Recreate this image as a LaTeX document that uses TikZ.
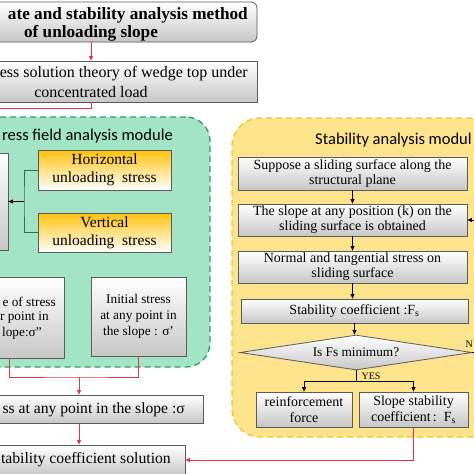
\documentclass[tikz,border=0pt]{standalone}
\usepackage{fontspec}
\setmainfont{Liberation Serif}
\newfontfamily\modfont{Carlito}
\usetikzlibrary{arrows.meta,shapes.geometric,fit}
\definecolor{redline}{HTML}{E8343C}
\definecolor{greenfill}{HTML}{A3E4C6}
\definecolor{greenedge}{HTML}{2E9D5B}
\definecolor{yelfill}{HTML}{FCE38C}
\definecolor{yeledge}{HTML}{EBC82A}
\definecolor{boxedge}{HTML}{5A5A5A}
\definecolor{goldtop}{HTML}{FFC20E}
\definecolor{connteal}{HTML}{2F6B5E}
\newcommand{\fsz}[2]{\fontsize{#1}{#2}\selectfont}
\begin{document}
\begin{tikzpicture}[x=1pt,y=-1pt,
  gbox/.style={draw=boxedge, line width=0.8pt, top color=white, bottom color=black!22, inner sep=0pt, align=center},
  ybox/.style={draw=boxedge, line width=0.8pt, top color=goldtop, bottom color=white, inner sep=0pt, align=center},
  gmodule/.style={draw=greenedge, fill=greenfill, line width=1.3pt, dash pattern=on 6pt off 4pt, rounded corners=24pt, inner sep=0pt},
  ymodule/.style={draw=yeledge, fill=yelfill, line width=1.3pt, dash pattern=on 6pt off 4pt, rounded corners=28pt, inner sep=0pt},
  txt/.style={inner sep=0pt},
  redarr/.style={draw=redline, line width=0.9pt, -{Triangle[length=4.5pt,width=4pt]}},
  redln/.style={draw=redline, line width=0.9pt},
  blkarr/.style={draw=black, line width=0.8pt, -{Triangle[length=4.5pt,width=4pt]}},
  blkln/.style={draw=black, line width=0.8pt},
  tealln/.style={draw=connteal, line width=1pt},
]
\useasboundingbox (0,0) rectangle (474,474);
\fill[white] (0,0) rectangle (474,474);

% top boxes
\node[gbox, rounded corners=6pt, fit={(-120,2) (257,42)}] (title) {};
\node[txt, anchor=east, font=\bfseries\fsz{17.2}{19}] (t1a) at (248,15) {ate and stability analysis method};
\node[txt, font=\bfseries\fsz{17.2}{19}] (t1b) at (91,33) {of unloading slope};

\node[gbox, fit={(-120,61) (257,102)}] (box2) {};
\node[txt, anchor=east, font=\fsz{16}{18}] (t2a) at (248,74) {ess solution theory of wedge top under};
\node[txt, font=\fsz{16}{18}] (t2b) at (91,92) {concentrated load};

\draw[redarr] (t1b |- title.south) -- (t1b |- box2.north);
\coordinate (gin) at (-10,108);
\draw[redln] (t2b |- box2.south) |- (gin);

% green module
\node[gmodule, fit={(-60,117) (210,367)}] (gmod) {};
\node[txt, anchor=east, font=\modfont\fsz{16.5}{18}] (gtitle) at (173,136) {ress field analysis module};

\node[gbox, fit={(-60,153) (8,250)}] (lbox) {};
\node[ybox, minimum width=133pt, minimum height=40pt, font=\fsz{15.5}{18}] (hor) at (104.5,170) {Horizontal\\unloading\ \ stress};
\node[ybox, minimum width=133pt, minimum height=39pt, font=\fsz{15.5}{18}] (ver) at (104.5,232.5) {Vertical\\unloading\ \ stress};
\coordinate (jn) at (24,201.5);
\draw[tealln] (hor.west) -| (jn) |- (ver.west);
\draw[blkarr] (jn) -- (jn -| lbox.east);

\node[gbox, fit={(-60,277) (64,358)}] (blb) {};
\node[txt, anchor=east, font=\fsz{13.3}{16}] (b1) at (56,302) {e of stress};
\node[txt, anchor=east, font=\fsz{13.3}{16}] (b2) at (49,318) {r point in};
\node[txt, anchor=east, font=\fsz{13.3}{16}] (b3) at (42,333) {lope:σ''};

\node[gbox, minimum width=95pt, minimum height=79pt, font=\fsz{13.3}{16}] (init) at (138.5,316.5) {Initial stress\\at any point in\\the slope : σ'};

\coordinate (rj) at (79,377);
\draw[redln] ([xshift=-55pt]blb.south east) |- (rj) -| (init.south);

\node[gbox, fit={(-60,395) (203,423)}] (sig) {};
\node[txt, anchor=east, font=\fsz{15.6}{18}] (sigt) at (185,410) {ss at any point in the slope :σ};
\draw[redarr] (rj) -- (rj |- sig.north);

\node[gbox, fit={(-60,445) (185,475)}] (sol) {};
\node[txt, anchor=east, font=\fsz{15.7}{18}] (solt) at (171,460) {tability coefficient solution};
\draw[redarr] (rj |- sig.south) -- (rj |- sol.north);

% yellow module
\node[ymodule, fit={(232,118) (540,437)}] (ymod) {};
\node[txt, anchor=west, font=\modfont\fsz{16.5}{18}] (ytitle) at (315,140) {Stability analysis modul};

\node[gbox, minimum width=229pt, minimum height=33pt, font=\fsz{14}{15}] (supp) at (352.5,173.5) {Suppose a sliding surface along the\\structural plane};
\node[gbox, minimum width=229pt, minimum height=32pt, font=\fsz{14}{15}] (slopek) at (352.5,220) {The slope at any position (k) on the\\sliding surface is obtained};
\node[gbox, minimum width=229pt, minimum height=32pt, font=\fsz{14}{15}] (normal) at (352.5,267) {Normal and tangential stress on\\sliding surface};
\node[gbox, minimum width=227pt, minimum height=24pt, font=\fsz{14}{15}] (stab) at (354.5,311) {Stability coefficient :F\textsubscript{s}};
\node[gbox, diamond, aspect=6.6, minimum width=232pt, minimum height=35pt, font=\fsz{13.3}{15}] (diam) at (356,352.5) {Is Fs minimum?};
\node[gbox, minimum width=96pt, minimum height=35pt, font=\fsz{14}{16}] (reinf) at (304,409.5) {reinforcement\\force};
\node[gbox, minimum width=109pt, minimum height=35pt, font=\fsz{14}{16}] (slopeF) at (413.5,409.5) {Slope stability\\coefficient\,:\ \ F\textsubscript{s}};

\draw[blkarr] (supp.south) -- (slopek.north);
\draw[blkarr] (slopek.south) -- (normal.north);
\draw[blkarr] (normal.south) -- (normal.south |- stab.north);
\draw[blkarr] (stab.south) -- (stab.south |- diam.north);
\coordinate (yj) at (356,381);
\draw[blkln] (diam.south) -- (yj);
\draw[blkarr] (yj) -| (reinf.north);
\draw[blkarr] (yj) -| (slopeF.north);
\node[txt, font=\fsz{10}{11}] (yes) at (371,376) {YES};
\draw[blkarr] (diam.east) -- ++(18,0) |- (slopek.east);
\node[txt, anchor=west, font=\fsz{10}{11}] (nolab) at (465.5,344) {N};

\draw[redarr] (slopeF.south) |- (sol.east);
\end{tikzpicture}
\end{document}
